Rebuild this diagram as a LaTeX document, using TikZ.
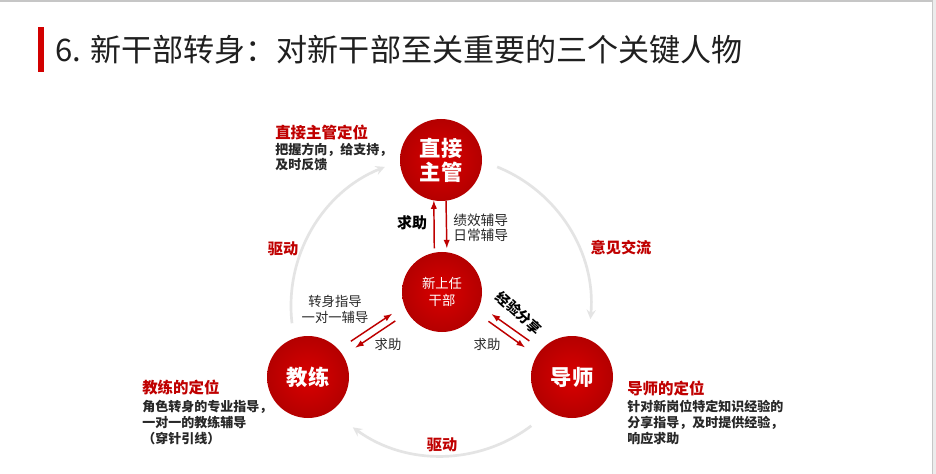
\documentclass[tikz,border=0pt]{standalone}
\usepackage{fontspec}
\usepackage{tikz}
\usetikzlibrary{calc}
\newfontfamily\cjk{Noto Sans CJK SC}
\definecolor{ringred}{RGB}{210,0,0}
\definecolor{ringin}{RGB}{218,0,0}
\definecolor{ringout}{RGB}{180,0,0}
\definecolor{arrred}{RGB}{190,0,0}
\definecolor{headred}{RGB}{192,0,0}
\definecolor{bodygray}{RGB}{40,40,40}
\definecolor{cycgray}{RGB}{228,228,228}
\tikzstyle{role} = [circle,inner color=ringin,outer color=ringout,text=white,inner sep=0,minimum size=61.5pt,align=center,font=\cjk\bfseries\fontsize{16}{18}\selectfont]
\tikzstyle{head} = [inner sep=0,anchor=west,text=headred,font=\cjk\bfseries\fontsize{11.6}{14}\selectfont]
\tikzstyle{body} = [inner sep=0,anchor=west,align=left,text=bodygray,font=\cjk\bfseries\fontsize{9.75}{12}\selectfont]
\tikzstyle{tag} = [inner sep=0,text=bodygray,font=\cjk\fontsize{10}{12}\selectfont]
\tikzstyle{drive} = [inner sep=0,text=headred,font=\cjk\bfseries\fontsize{11.4}{14}\selectfont]
\tikzstyle{link} = [draw=arrred,line width=1.1pt,-latex,shorten <=11pt,shorten >=11pt]
\tikzstyle{cyc} = [draw=cycgray,line width=2pt,->,>=stealth]

\begin{document}
\begin{tikzpicture}[x=0.75pt,y=-0.75pt]
    \useasboundingbox (0,0) rectangle (936,474);
    \fill[white] (0,0) rectangle (936,474);
    \fill[gray!15] (932.5,0) rectangle (936,474);
    \draw[gray!45,line width=0.8pt] (0,1) -- (932.5,1) -- (932.5,474);

    \fill[ringred] (38,27) rectangle (44,72);
    \node[inner sep=0,anchor=west,text=black!88,font=\cjk\fontsize{23.3}{26}\selectfont] (title) at (55,50) {6. 新干部转身：对新干部至关重要的三个关键人物};

    \coordinate (hub) at (441,306);
    \draw[cyc] ($(hub)+(-186.6:150)$) arc[start angle=-186.6,end angle=-112,radius=150];
    \draw[cyc] ($(hub)+(-68:150)$) arc[start angle=-68,end angle=5,radius=150];
    \draw[cyc] ($(hub)+(53:150)$) arc[start angle=53,end angle=126,radius=150];

    \node[role] (sup) at (441,160) {直接\\主管};
    \node[role,minimum size=60pt,font=\cjk\fontsize{10}{12.75}\selectfont] (new) at (442,292) {新上任\\干部};
    \node[role] (coach) at (308,377) {教练};
    \node[role] (mentor) at (572,377) {导师};

    \draw[link,shorten <=3pt,shorten >=0pt] (new.101) -- (sup.260);
    \draw[link,shorten <=0pt,shorten >=3pt] (sup.277) -- (new.83);
    \draw[link] (coach.42) -- (new.200);
    \draw[link] (new.211) -- (coach.31);
    \draw[link] (mentor.138) -- (new.340);
    \draw[link] (new.329) -- (mentor.149);

    \node[head] (supT) at (275,132) {直接主管定位};
    \node[body,font=\cjk\bfseries\fontsize{9.75}{11.25}\selectfont] (supB) at (275,157.5) {把握方向，给支持，\\及时反馈};
    \node[head] (coachT) at (142,388) {教练的定位};
    \node[body] (coachB) at (142,422.5) {角色转身的专业指导，\\一对一的教练辅导\\（穿针引线）};
    \node[head] (mentorT) at (627,388) {导师的定位};
    \node[body] (mentorB) at (627,422) {针对新岗位特定知识经验的\\分享指导，及时提供经验，\\响应求助};

    \node[tag,text=black,font=\cjk\bfseries\fontsize{11.25}{13}\selectfont] (askUp) at (412,223) {求助};
    \node[tag,anchor=west,align=left,font=\cjk\fontsize{10.3}{11.25}\selectfont] (coachUp) at (453,227.5) {绩效辅导\\日常辅导};
    \node[tag,align=center] (turn) at (335,309) {转身指导\\一对一辅导};
    \node[tag] (askL) at (388,344) {求助};
    \node[tag] (askR) at (487,344) {求助};
    \node[tag,rotate=-42,text=black,font=\cjk\bfseries\fontsize{10.4}{12}\selectfont] (share) at (519,313) {经验分享};

    \node[drive] (driveL) at (283,249) {驱动};
    \node[drive] (driveB) at (442,445) {驱动};
    \node[drive] (talk) at (621,248) {意见交流};
\end{tikzpicture}
\end{document}
